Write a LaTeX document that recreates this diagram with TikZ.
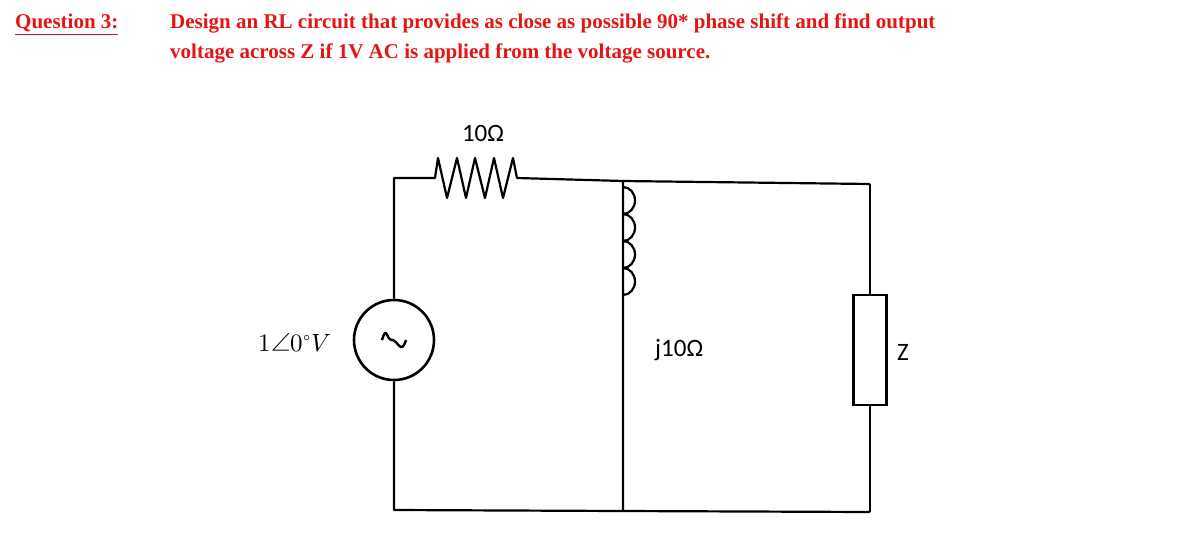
\documentclass[tikz,border=0pt]{standalone}
\usepackage{fontspec}
\setmainfont{Liberation Serif}
\newfontfamily\calibrifont{Carlito}
\usepackage{unicode-math}
\setmathfont{Latin Modern Math}
\begin{document}
\begin{tikzpicture}[x=1pt,y=-1pt,wire/.style={line width=2.2pt,line join=round},
 lbl/.style={font=\calibrifont\fontsize{25}{25}\selectfont,inner sep=0pt}]
\useasboundingbox (0,0) rectangle (1183,552);
\definecolor{qred}{RGB}{230,20,20}
\node[anchor=base west,inner sep=0pt,text=qred,font=\bfseries\fontsize{21}{21}\selectfont] (q) at (15,28) {\underline{Question 3:}};
\node[anchor=base west,inner sep=0pt,text=qred,font=\bfseries\fontsize{21}{21}\selectfont,align=left] (t) at (170,28) {Design an RL circuit that provides as close as possible 90* phase shift and find output};
\node[anchor=base west,inner sep=0pt,text=qred,font=\bfseries\fontsize{21}{21}\selectfont] (t2) at (170,58) {voltage across Z if 1V AC is applied from the voltage source.};
% source
\node[circle,draw,line width=2.6pt,minimum size=80pt,inner sep=0pt] (src) at (394,340) {};
\draw[line width=2.4pt] ([xshift=-12pt,yshift=0pt]src.center) .. controls +(5,-16) and +(-6,0) .. ([xshift=-2pt]src.center) ..controls +(6,0) and +(-5,16) .. ([xshift=12pt]src.center);
\coordinate (tl) at (394,178);
\coordinate (bl) at (394,510);
\coordinate (jt) at (623,181);
\coordinate (jb) at (623,511);
\coordinate (tr) at (870,184);
\coordinate (br) at (870,512);
\draw[wire] (src.north) -- (tl) -- (435,178) -- (438,158) -- (447,198) -- (457,158) -- (466,198) -- (475,158) -- (485,198) -- (494,158) -- (503,198) -- (513,158) -- (517,178) -- (jt) -- (tr);
\draw[wire] (src.south) -- (bl) -- (jb) -- (br);
% inductor
\draw[wire] (jt) -- (623,295) arc (90:-90:12 and 13.5) arc (90:-90:12 and 13.5) arc (90:-90:12 and 13.5) arc (90:-90:12 and 13.5) -- (jb);
% Z
\node[draw,line width=2.2pt,minimum width=33pt,minimum height=110pt,inner sep=0pt] (z) at (870,350) {};
\draw[wire] (tr) -- (z.north);
\draw[wire] (z.south) -- (br);
\node[lbl] (r) at (483,133) {10Ω};
\node[lbl] (v) at (295,343) {$1\angle 0^{\circ}V$};
\node[lbl,anchor=west] (l) at (655,350) {j10Ω};
\node[lbl,anchor=west] (zl) at (897,352) {Z};
\end{tikzpicture}
\end{document}
